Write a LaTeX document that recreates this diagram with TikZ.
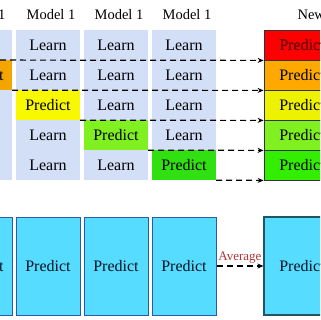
\documentclass[tikz,border=0pt]{standalone}
\usepackage{fontspec}
\setmainfont{Liberation Serif}
\usetikzlibrary{positioning,arrows.meta}

\definecolor{learnblue}{HTML}{D3DEF7}
\definecolor{pc0}{HTML}{F5A500}
\definecolor{pc1}{HTML}{F8F800}
\definecolor{pc2}{HTML}{80F020}
\definecolor{pc3}{HTML}{30E010}
\definecolor{newred}{HTML}{FF0000}
\definecolor{neworange}{HTML}{FFA800}
\definecolor{newyellow}{HTML}{EEF200}
\definecolor{newlime}{HTML}{80F020}
\definecolor{newgreen}{HTML}{33EE00}
\definecolor{redtext}{HTML}{8A1010}
\definecolor{predcyan}{HTML}{55DCFF}
\definecolor{predline}{HTML}{2A5AA8}
\definecolor{newline}{HTML}{1F5565}
\definecolor{avgred}{HTML}{B03535}

\tikzset{
  cell/.style={minimum width=64pt, minimum height=30pt, inner sep=0pt, font=\fontsize{16}{19}\selectfont},
  learncol/.style={fill=learnblue, minimum height=150pt, inner sep=0pt},
  head/.style={font=\fontsize{14.5}{17}\selectfont},
  predbox/.style={draw=predline, fill=predcyan, line width=1pt, minimum height=98pt, inner sep=0pt,
    text=black!80!predline, font=\fontsize{16}{19}\selectfont},
  sendto/.style={dash pattern=on 6pt off 4pt, line width=1.2pt, -{Stealth[length=6pt,width=5pt]}},
  avg/.style={text=avgred, font=\fontsize{13}{15}\selectfont, inner sep=2pt}
}

\begin{document}
\begin{tikzpicture}[x=1pt,y=-1pt]
\useasboundingbox (0,0) rectangle (320,320);
\clip (0,0) rectangle (320,320);

% model columns
\foreach \c/\x/\w/\p/\hx in {0/-19/62/2/-19, 1/48/64/3/51, 2/116/64/4/119, 3/184/64/5/187}{
  \node[head] (h\c) at (\hx,15) {Model 1};
  \node[learncol, minimum width=\w pt] (col\c) at (\x,105) {};
  \foreach \r in {1,...,5}{
    \ifnum\r=\p
      \node[cell, fill=pc\c, minimum width=\w pt] (c\c r\r) at (\x,15+30*\r) {Predict};
    \else
      \node[cell, minimum width=\w pt] (c\c r\r) at (\x,15+30*\r) {Learn};
    \fi
  }
  \node[predbox, minimum width=\w pt] (b\c) at (\x,266) {Predict};
}

% new model
\node[head, anchor=west] (hn) at (294,15) {New};
\foreach \r/\col in {1/newred, 2/neworange, 3/newyellow, 4/newlime, 5/newgreen}
  \node[cell, draw=black!80, line width=0.8pt, fill=\col, minimum width=76pt] (n\r) at (302,15+30*\r) {Predict};
\node[text=redtext, font=\fontsize{16}{19}\selectfont] at (n1) {Predict};
\node[predbox, draw=newline, line width=1.2pt, minimum width=76pt] (bn) at (302,266) {Predict};

% predictions passed on
\coordinate (cm1) at (-60,60);
\draw[sendto] (cm1) -- (n1.south west);
\foreach \c/\p in {0/2, 1/3, 2/4, 3/5}
  \draw[sendto] (c\c r\p.south east) -- (n\p.south west);
\draw[sendto] (b3.east) -- node[above, avg] {Average} (bn.west);
\end{tikzpicture}
\end{document}
